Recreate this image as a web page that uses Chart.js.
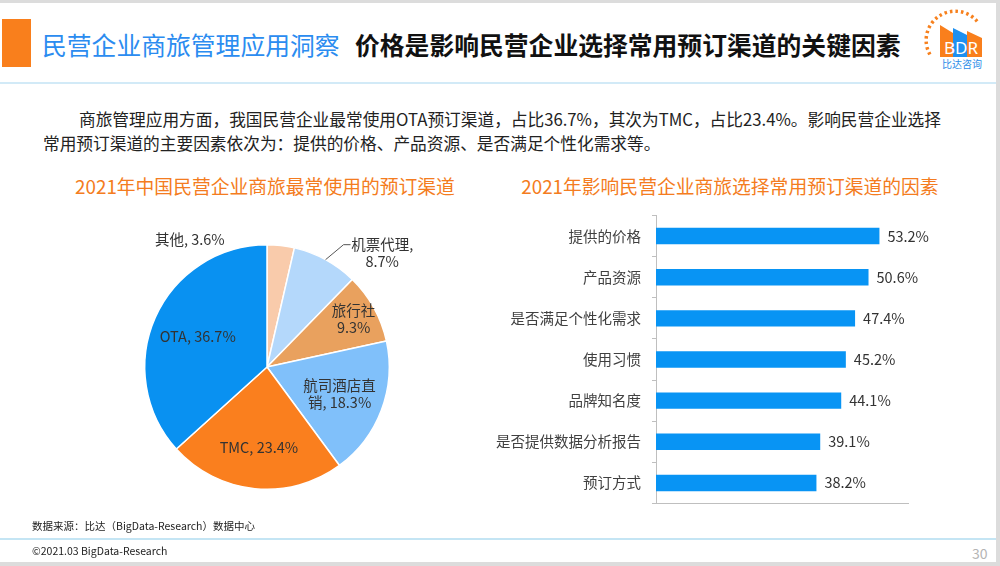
<!DOCTYPE html>
<html><head><meta charset="utf-8">
<script src="https://cdn.jsdelivr.net/npm/chart.js@4.4.1/dist/chart.umd.min.js"></script>
<style>
body{margin:0;width:1000px;height:566px;background:#dcdcdc;overflow:hidden;position:relative;font-family:"Noto Sans CJK SC","Noto Sans",sans-serif;}
#page{position:absolute;left:0;top:3px;width:996px;height:559px;background:#fff;}
.abs{position:absolute;white-space:nowrap;}
#obar{position:absolute;left:2px;top:19px;width:29px;height:48px;background:#f97f1c;}
#t1{left:42px;top:29px;font-size:24.8px;line-height:30px;color:#2b8cf0;}
#t2{left:355px;top:29px;font-size:24.8px;line-height:30px;color:#111;font-weight:bold;}
.hline{position:absolute;left:0;width:996px;height:1.5px;background:#d2eaf7;}
#para{left:43px;top:107px;font-size:16.7px;line-height:24px;color:#222;}
.ctitle{top:174px;width:420px;text-align:center;font-size:18.8px;line-height:24px;color:#f47c20;}
#src{left:32px;top:519px;font-size:10.5px;line-height:14px;color:#222;}
#copy{left:32px;top:544px;font-size:10.5px;line-height:14px;color:#222;}
#pnum{left:972px;top:544px;font-size:14px;line-height:18px;color:#b4b4b4;}
canvas{position:absolute;}
</style></head>
<body>
<div id="page"></div>
<div id="obar"></div>
<div class="abs" id="t1">民营企业商旅管理应用洞察</div>
<div class="abs" id="t2">价格是影响民营企业选择常用预订渠道的关键因素</div>
<svg class="abs" style="left:920px;top:5px" width="75" height="70" viewBox="920 5 75 70">
  <path d="M929.9,54.5 A29,29 0 0,1 977.2,21.4" fill="none" stroke="#f7811e" stroke-width="3.5" stroke-dasharray="2.5 3"/>
  <polygon points="940,57 940,25 953,33 953,57" fill="#f97f1c"/>
  <polygon points="953,57 953,28 967,35 967,57" fill="#1e90f0"/>
  <polygon points="967,57 967,31 982,38 982,57" fill="#f97f1c"/>
  <text x="961" y="54" text-anchor="middle" font-size="17" font-family="Noto Sans" fill="#fff">BDR</text>
  <text x="962" y="68" text-anchor="middle" font-size="10" font-family="Noto Sans CJK SC" fill="#2a8de8">比达咨询</text>
</svg>
<div class="hline" style="top:82px"></div>
<div class="abs" id="para"><span style="padding-left:36px"></span>商旅管理应用方面，我国民营企业最常使用OTA预订渠道，占比36.7%，其次为TMC，占比23.4%。影响民营企业选择<br>常用预订渠道的主要因素依次为：提供的价格、产品资源、是否满足个性化需求等。</div>
<div class="abs ctitle" style="left:55px">2021年中国民营企业商旅最常使用的预订渠道</div>
<div class="abs ctitle" style="left:520px">2021年影响民营企业商旅选择常用预订渠道的因素</div>
<canvas id="pie" width="334" height="304" style="left:100px;top:215px"></canvas>
<canvas id="bar" width="500" height="320" style="left:480px;top:200px"></canvas>
<div class="abs" id="src">数据来源：比达（BigData-Research）数据中心</div>
<div class="hline" style="top:538px;background:#c4e5f4"></div>
<div class="abs" id="copy">©2021.03 BigData-Research</div>
<div class="abs" id="pnum">30</div>
<script>
const pieCategories = ['其他', '机票代理', '旅行社', '航司酒店直销', 'TMC', 'OTA'];
const pieValues = [3.6, 8.7, 9.3, 18.3, 23.4, 36.7];
const barCategories = ['提供的价格', '产品资源', '是否满足个性化需求', '使用习惯', '品牌知名度', '是否提供数据分析报告', '预订方式'];
const barValues = [53.2, 50.6, 47.4, 45.2, 44.1, 39.1, 38.2];
const barAxisMax = 60;

const pieColors = ['#f9cbab', '#b4d8fb', '#e9a15e', '#80c0fa', '#fa7f1e', '#0991f1'];
const FONT = '"Noto Sans CJK SC","Noto Sans",sans-serif';
const pieLabelStyle = [
  {wrap: 'one', frac: 1, dx: -91, dy: -6},
  {wrap: 'comma', frac: 1, dx: 56.6, dy: -6.3, leader: [[0, 0], [18, -15], [25, -15]]},
  {wrap: 'plain', frac: 0.81, dx: 0, dy: 0},
  {wrap: 'split5', frac: 0.635, dx: 0, dy: 0},
  {wrap: 'one', frac: 0.66, dx: 0, dy: 0},
  {wrap: 'one', frac: 0.62, dx: 0, dy: 0}
];
function pieLines(i) {
  const c = pieCategories[i], v = pieValues[i] + '%';
  const w = pieLabelStyle[i].wrap;
  if (w === 'one') return [c + ', ' + v];
  if (w === 'comma') return [c + ',', v];
  if (w === 'plain') return [c, v];
  return [c.slice(0, 5), c.slice(5) + ', ' + v];
}
const pieLabelPlugin = {
  id: 'pieLabels',
  afterDraw(chart) {
    const ctx = chart.ctx;
    const meta = chart.getDatasetMeta(0);
    ctx.save();
    ctx.font = '14.5px ' + FONT;
    ctx.fillStyle = '#333';
    ctx.textAlign = 'center';
    ctx.textBaseline = 'middle';
    meta.data.forEach((el, i) => {
      const p = el.getProps(['x', 'y', 'startAngle', 'endAngle', 'outerRadius'], true);
      const mid = (p.startAngle + p.endAngle) / 2;
      const s = pieLabelStyle[i];
      const ax = p.x + Math.cos(mid) * p.outerRadius * s.frac;
      const ay = p.y + Math.sin(mid) * p.outerRadius * s.frac;
      if (s.leader) {
        ctx.beginPath();
        ctx.strokeStyle = '#555';
        ctx.lineWidth = 1;
        s.leader.forEach((q, k) => { if (k === 0) ctx.moveTo(ax + q[0], ay + q[1]); else ctx.lineTo(ax + q[0], ay + q[1]); });
        ctx.stroke();
      }
      const lines = pieLines(i);
      const lh = 17;
      const cx = ax + s.dx, cy = ay + s.dy;
      lines.forEach((t, k) => {
        ctx.fillText(t, cx, cy + (k - (lines.length - 1) / 2) * lh);
      });
    });
    ctx.restore();
  }
};
new Chart(document.getElementById('pie'), {
  type: 'pie',
  data: {labels: pieCategories, datasets: [{data: pieValues, backgroundColor: pieColors, borderColor: '#fff', borderWidth: 1.5}]},
  options: {
    responsive: false, animation: false,
    layout: {padding: {left: 44, right: 44, top: 29, bottom: 29}},
    plugins: {legend: {display: false}, tooltip: {enabled: false}}
  },
  plugins: [pieLabelPlugin]
});

const barValuePlugin = {
  id: 'barValues',
  afterDatasetsDraw(chart) {
    const ctx = chart.ctx;
    const meta = chart.getDatasetMeta(0);
    ctx.save();
    ctx.font = '14.5px ' + FONT;
    ctx.fillStyle = '#333';
    ctx.textAlign = 'left';
    ctx.textBaseline = 'middle';
    meta.data.forEach((b, i) => {
      ctx.fillText(barValues[i].toFixed(1) + '%', b.x + 8, b.y);
    });
    ctx.restore();
  }
};
new Chart(document.getElementById('bar'), {
  type: 'bar',
  data: {labels: barCategories, datasets: [{data: barValues, backgroundColor: '#0894f4', barPercentage: 0.4, categoryPercentage: 1}]},
  options: {
    indexAxis: 'y', responsive: false, animation: false,
    layout: {padding: {top: 15.5, right: 72, left: 0, bottom: 0}},
    plugins: {legend: {display: false}, tooltip: {enabled: false}},
    scales: {
      x: {min: 0, max: barAxisMax, ticks: {display: false}, grid: {display: false},
          border: {display: true, color: '#bfbfbf', width: 1}, afterFit(s) { s.height = 16.5; s.paddingLeft = 0; s.paddingRight = 0; }},
      y: {ticks: {padding: 11, color: '#404040', font: {family: FONT, size: 14.5}},
          grid: {display: true, drawOnChartArea: false, drawTicks: true, tickLength: 4, color: '#bfbfbf', offset: true},
          border: {display: true, color: '#bfbfbf', width: 1}, afterFit(s) { s.width = 176; s.paddingTop = 0; s.paddingBottom = 0; }}
    }
  },
  plugins: [barValuePlugin]
});
</script>
</body></html>
